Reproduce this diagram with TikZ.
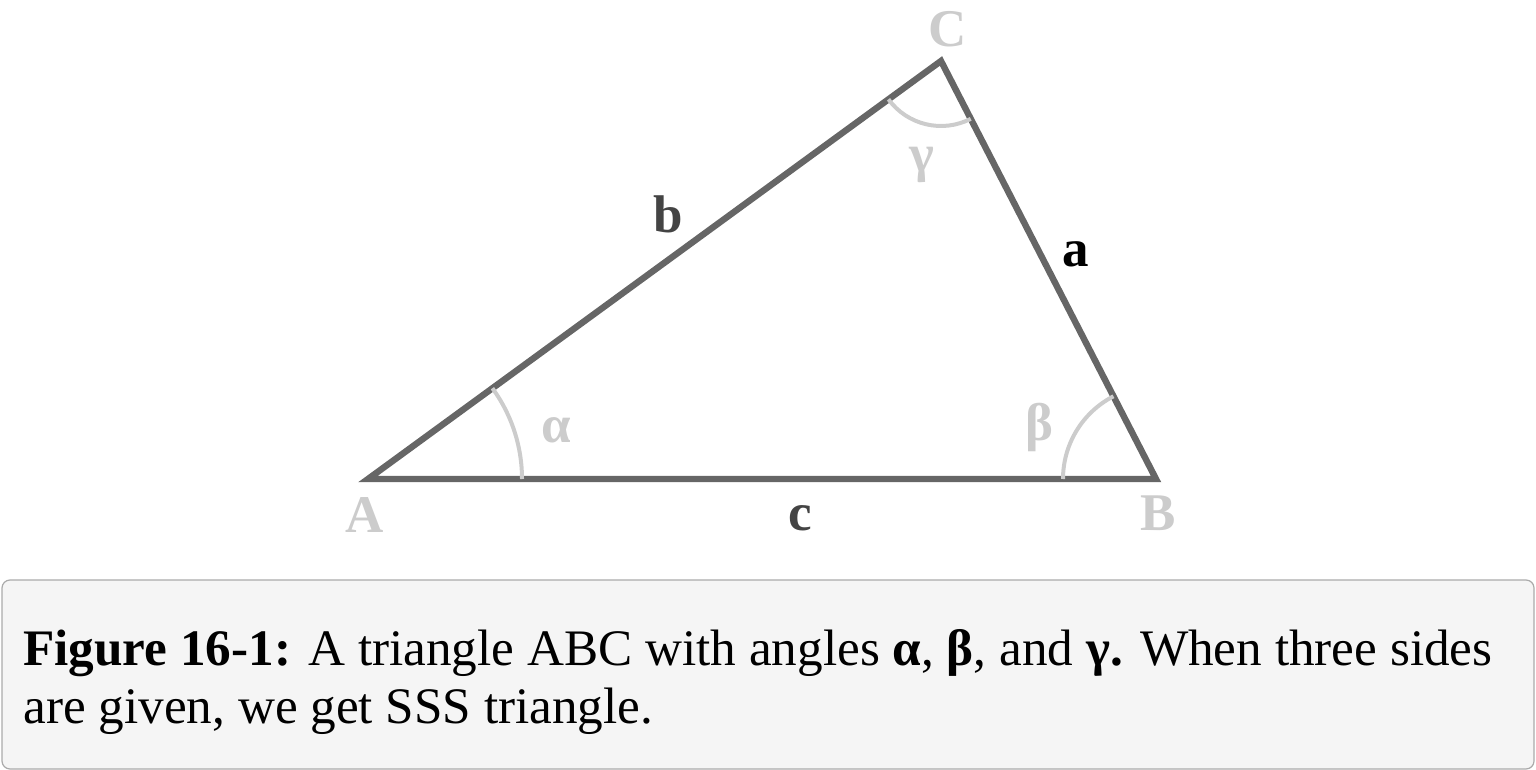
\documentclass[tikz,border=0pt]{standalone}
\usepackage{fontspec}
\setmainfont{Liberation Serif}
\usetikzlibrary{angles}
\definecolor{lineGray}{HTML}{666666}
\definecolor{arcGray}{HTML}{CCCCCC}
\definecolor{sideDark}{HTML}{444444}
\definecolor{boxFill}{HTML}{F5F5F5}
\definecolor{boxDraw}{HTML}{AAAAAA}
\begin{document}
\begin{tikzpicture}[x=0.5pt,y=-0.5pt,
                    sideLine/.style={draw=lineGray,line width=3.2pt,line join=miter},
                    angleArc/.style={draw=arcGray,line width=2pt},
                    vertexLabel/.style={text=arcGray,anchor=base,inner sep=0pt,
                                        font=\bfseries\fontsize{26.5}{30}\selectfont},
                    sideLabel/.style={text=sideDark,anchor=base,inner sep=0pt,
                                      font=\bfseries\fontsize{26.5}{30}\selectfont},
                    captionBox/.style={fill=boxFill,draw=boxDraw,line width=0.6pt,rounded corners=4pt}]
  \useasboundingbox (0,0) rectangle (1536,770);
  % triangle
  \coordinate (A) at (368,479);
  \coordinate (B) at (1156,479);
  \coordinate (C) at (941,61);
  \draw [sideLine] (A) -- (B) -- (C) -- cycle;
  % angles
  \pic [angleArc,angle radius=77pt] {angle=B--A--C};
  \pic [angleArc,angle radius=46.5pt] {angle=C--B--A};
  \pic [angleArc,angle radius=32.5pt] {angle=A--C--B};
  % labels
  \node [vertexLabel] (labA) at (365,532) {A};
  \node [vertexLabel] (labB) at (1158,530) {B};
  \node [vertexLabel] (labC) at (948,47) {C};
  \node [vertexLabel] (alpha) at (556,442) {α};
  \node [vertexLabel] (beta) at (1039,440) {β};
  \node [vertexLabel] (gamma) at (922,172) {γ};
  \node [sideLabel] (sideA) at (1076,267) {\textcolor{black}{a}};
  \node [sideLabel] (sideB) at (668,233) {b};
  \node [sideLabel] (sideC) at (800,530) {c};
  % caption
  \draw [captionBox] (2,580) rectangle (1534,769);
  \node [anchor=base west,inner sep=0pt,align=left,
         font=\fontsize{25.6}{29}\selectfont] (caption) at (23,723)
    {\textbf{Figure 16-1:} A triangle ABC with angles \textbf{α}, \textbf{β}, and \textbf{γ.} When three sides\\
     are given, we get SSS triangle.};
\end{tikzpicture}
\end{document}
